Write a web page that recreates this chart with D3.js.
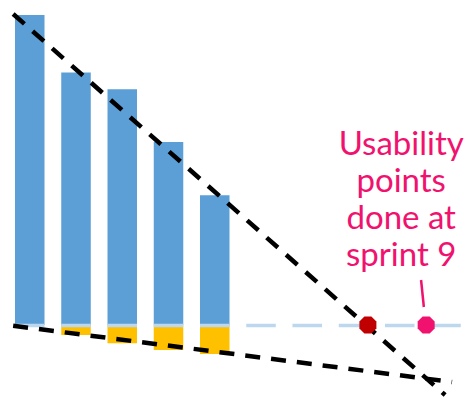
<!DOCTYPE html>
<html>
<head>
<meta charset="utf-8">
<script src="https://cdn.jsdelivr.net/npm/d3@7"></script>
<style>
  html, body { margin: 0; padding: 0; background: #fff; }
  svg { display: block; }
</style>
</head>
<body>
<svg id="chart" width="474" height="412"></svg>
<script>
// ---- data ----
const sprints = [1, 2, 3, 4, 5];
const remainingPoints = [124, 101, 94.3, 73.2, 51.9];
const addedPoints = [0, 4, 7.3, 10, 11.6];
const axisSlots = [1, 2, 3, 4, 5, 6, 7, 8, 9, 10];
// trend lines: [sprint position, points]
const remainingTrend = [[-0.04, 124.4], [9.30, -28]];
const addedTrend = [[-0.04, -0.3], [9.45, -22.8]];
// markers: sprint position where trend meets baseline
const markerPos = [7.63, 8.89];
const markerColors = ["#c00000", "#f0126e"];
// annotation
const noteLines = ["Usability", "points", "done at", "sprint 9"];
const notePos = 8.35;
const noteValues = [68, 53.2, 38.4, 23.6];
const pointer = [[8.78, 18], [8.84, 7.2]];

// ---- scales ----
const x = d3.scaleLinear().domain([0, 10]).range([15, 477.5]);
const y = d3.scaleLinear().domain([0, 124]).range([325, 15]);
const barW = x(0.638) - x(0);

const svg = d3.select("#chart");
svg.append("rect").attr("width", 474).attr("height", 412).attr("fill", "#fff");

// blue bars (remaining)
svg.append("g").selectAll("rect").data(sprints).join("rect")
  .attr("x", (d) => x(d - 1))
  .attr("width", barW)
  .attr("y", (d, i) => y(remainingPoints[i]))
  .attr("height", (d, i) => y(0) - y(remainingPoints[i]))
  .attr("fill", "#5b9fd6");

// gold bars (added)
svg.append("g").selectAll("rect").data(sprints).join("rect")
  .attr("x", (d) => x(d - 1))
  .attr("width", barW)
  .attr("y", y(0))
  .attr("height", (d, i) => y(-addedPoints[i]) - y(0))
  .attr("fill", "#ffc000");

// dashed baseline aligned with sprint slots
svg.append("line")
  .attr("x1", x(axisSlots[0] - 1))
  .attr("x2", x(axisSlots[axisSlots.length - 1] - 1) + barW)
  .attr("y1", y(0) + 0.5).attr("y2", y(0) + 0.5)
  .attr("stroke", "#bdd7ee")
  .attr("stroke-width", 3.5)
  .attr("stroke-dasharray", `${barW} ${x(1) - x(0) - barW}`);

// markers (octagons)
const oct = (cx, cy, r) => d3.range(8).map(k => {
  const a = Math.PI / 8 + k * Math.PI / 4;
  return [cx + r * Math.cos(a), cy + r * Math.sin(a)];
});

// trend lines
const line = d3.line().x(d => x(d[0])).y(d => y(d[1]));
[remainingTrend, addedTrend].forEach(t => {
  svg.append("path")
    .attr("d", line(t))
    .attr("fill", "none")
    .attr("stroke", "#000")
    .attr("stroke-width", 4.5)
    .attr("stroke-dasharray", "15 11");
});

svg.append("g").selectAll("polygon").data(markerPos).join("polygon")
  .attr("points", (d) => oct(x(d), y(0), 9.2).map(p => p.join(",")).join(" "))
  .attr("fill", (d, i) => markerColors[i]);

// pointer
svg.append("path")
  .attr("d", line(pointer))
  .attr("stroke", markerColors[1])
  .attr("stroke-width", 2.5)
  .attr("fill", "none");

// annotation text
svg.append("g").selectAll("text").data(noteLines).join("text")
  .attr("x", x(notePos))
  .attr("y", (d, i) => y(noteValues[i]))
  .attr("text-anchor", "middle")
  .attr("font-family", "Lato, 'Open Sans', sans-serif")
  .attr("font-size", 33)
  .attr("fill", markerColors[1])
  .text(d => d);
</script>
</body>
</html>
